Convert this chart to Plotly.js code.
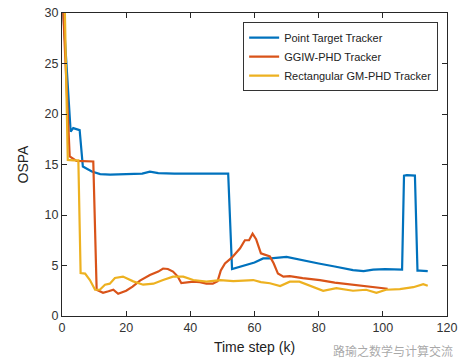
<!DOCTYPE html>
<html>
<head>
<meta charset="utf-8">
<script src="https://cdn.plot.ly/plotly-3.0.1.min.js"></script>
<style>html,body{margin:0;padding:0;background:#fff;}#chart{width:474px;height:362px;}</style>
</head>
<body>
<div id="chart"></div>
<script>
// Point Target Tracker
const pointX = [0.4, 2.7, 3.5, 4.5, 5.5, 6.5, 8, 9.3, 11.9, 15, 20, 25, 27.4, 30, 35, 40, 45, 50, 51.8, 53, 56, 60, 62.7, 65, 70, 75, 80, 85, 90.7, 94, 97, 100.7, 104, 106, 106.6, 107.5, 110, 110.8, 111.5, 114];
const pointY = [30, 18.25, 18.6, 18.5, 18.4, 14.8, 14.5, 14.3, 14.05, 14.0, 14.05, 14.1, 14.3, 14.15, 14.1, 14.1, 14.15, 14.1, 14.1, 4.65, 4.9, 5.3, 5.7, 5.7, 5.85, 5.5, 5.2, 4.9, 4.55, 4.45, 4.6, 4.65, 4.6, 4.6, 13.9, 13.95, 13.9, 4.5, 4.5, 4.45];

// GGIW-PHD Tracker
const ggiwX = [0.4, 2.4, 4.5, 7, 9.75, 10.8, 12.8, 14.5, 16, 17.5, 20, 22, 24.3, 27.4, 30, 31.5, 33, 34.6, 36.1, 37.2, 39, 40.9, 43, 45, 47, 48.5, 49.5, 50.8, 53, 55.5, 57, 58.3, 59.4, 60.5, 62, 64.8, 66, 67.3, 69, 71, 75, 80.4, 85, 90.7, 95, 100, 101.5];
const ggiwY = [30, 15.8, 15.35, 15.3, 15.3, 2.6, 2.3, 2.45, 2.6, 2.2, 2.5, 2.9, 3.5, 4.05, 4.4, 4.7, 4.65, 4.4, 3.9, 3.25, 3.3, 3.4, 3.35, 3.2, 3.2, 3.45, 4.5, 5.2, 5.8, 6.7, 7.5, 7.5, 8.15, 7.6, 6.2, 5.9, 5.2, 4.2, 3.9, 3.95, 3.75, 3.55, 3.3, 3.07, 2.9, 2.75, 2.7];

// Rectangular GM-PHD Tracker
const rectX = [0.9, 1.8, 3.5, 5.1, 5.8, 7.2, 8.7, 10.3, 11.8, 13.4, 14.9, 16.5, 19, 22.2, 25.3, 28.5, 31.5, 34.6, 37.8, 40.9, 45, 49.3, 53.4, 56, 59.6, 62, 64.8, 68, 71, 74, 78.2, 81.4, 85.5, 90.7, 94.8, 98, 101, 105.3, 109.5, 112.6, 114];
const rectY = [30, 15.45, 15.4, 15.4, 4.25, 4.2, 3.56, 2.6, 2.6, 3.1, 3.2, 3.76, 3.9, 3.43, 3.1, 3.2, 3.56, 3.9, 3.9, 3.56, 3.4, 3.56, 3.45, 3.5, 3.56, 3.35, 3.24, 2.97, 3.4, 3.4, 2.9, 2.5, 2.75, 2.5, 2.6, 2.3, 2.6, 2.67, 2.85, 3.15, 3.0];

const names = ['Point Target Tracker', 'GGIW-PHD Tracker', 'Rectangular GM-PHD Tracker'];
const colors = ['#0072BD', '#D95319', '#EDB120'];
const xTicks = [0, 20, 40, 60, 80, 100, 120];
const yTicks = [0, 5, 10, 15, 20, 25, 30];

const series = [[pointX, pointY], [ggiwX, ggiwY], [rectX, rectY]];
const traces = series.map((s, i) => ({
  x: s[0], y: s[1], name: names[i], type: 'scatter', mode: 'lines',
  line: {color: colors[i], width: 2.2}
}));

const axisCommon = {
  showgrid: false, zeroline: false, showline: true, linecolor: '#262626', linewidth: 1,
  mirror: 'ticks', ticks: 'inside', ticklen: 5, tickcolor: '#262626',
  tickfont: {family: 'Liberation Sans, Arial, sans-serif', size: 12.5, color: '#333'}
};

const layout = {
  width: 474, height: 362,
  margin: {l: 62, r: 27, t: 13, b: 46},
  paper_bgcolor: '#fff', plot_bgcolor: '#fff',
  showlegend: true,
  xaxis: Object.assign({}, axisCommon, {
    range: [0, 120], tickvals: xTicks, ticktext: xTicks.map(String),
    title: {text: 'Time step (k)', font: {family: 'Liberation Sans, Arial, sans-serif', size: 14, color: '#222'}, standoff: 8}
  }),
  yaxis: Object.assign({}, axisCommon, {
    range: [0, 30], tickvals: yTicks, ticktext: yTicks.map(String),
    title: {text: 'OSPA', font: {family: 'Liberation Sans, Arial, sans-serif', size: 14, color: '#222'}, standoff: 12}
  }),
  legend: {
    x: 0.977, y: 0.97, xanchor: 'right', yanchor: 'top',
    bgcolor: '#fff', bordercolor: '#333', borderwidth: 1,
    font: {family: 'Liberation Sans, Arial, sans-serif', size: 11, color: '#222'},
    tracegroupgap: 0, itemwidth: 30
  },
  annotations: [{
    xref: 'paper', yref: 'paper', x: 1.02, y: -0.115, xanchor: 'right', yanchor: 'middle',
    text: '路瑜之数学与计算交流', showarrow: false,
    font: {family: 'Noto Sans CJK SC', size: 12, color: 'rgba(140,140,140,0.75)'}
  }]
};

Plotly.newPlot('chart', traces, layout, {displayModeBar: false, staticPlot: true});
</script>
</body>
</html>
